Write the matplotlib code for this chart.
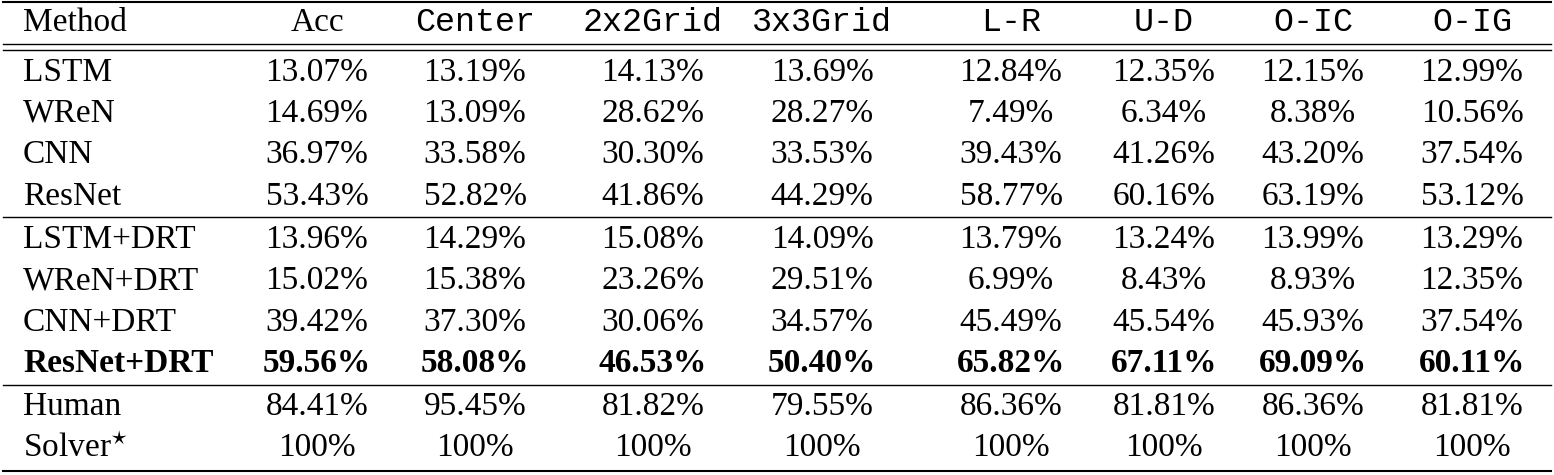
import matplotlib
matplotlib.use('Agg')
import matplotlib.pyplot as plt

plt.rcParams['font.family'] = ['Liberation Serif', 'DejaVu Serif']
plt.rcParams['mathtext.fontset'] = 'stix'

columns = ['Acc', 'Center', '2x2Grid', '3x3Grid', 'L-R', 'U-D', 'O-IC', 'O-IG']
mono_cols = [False, True, True, True, True, True, True, True]

methods = ['LSTM', 'WReN', 'CNN', 'ResNet',
           'LSTM+DRT', 'WReN+DRT', 'CNN+DRT', 'ResNet+DRT',
           'Human', r'Solver$^{\star}$']

lstm = [13.07, 13.19, 14.13, 13.69, 12.84, 12.35, 12.15, 12.99]
wren = [14.69, 13.09, 28.62, 28.27, 7.49, 6.34, 8.38, 10.56]
cnn = [36.97, 33.58, 30.30, 33.53, 39.43, 41.26, 43.20, 37.54]
resnet = [53.43, 52.82, 41.86, 44.29, 58.77, 60.16, 63.19, 53.12]
lstm_drt = [13.96, 14.29, 15.08, 14.09, 13.79, 13.24, 13.99, 13.29]
wren_drt = [15.02, 15.38, 23.26, 29.51, 6.99, 8.43, 8.93, 12.35]
cnn_drt = [39.42, 37.30, 30.06, 34.57, 45.49, 45.54, 45.93, 37.54]
resnet_drt = [59.56, 58.08, 46.53, 50.40, 65.82, 67.11, 69.09, 60.11]
human = [84.41, 95.45, 81.82, 79.55, 86.36, 81.81, 86.36, 81.81]
solver = [100, 100, 100, 100, 100, 100, 100, 100]

rows = [lstm, wren, cnn, resnet, lstm_drt, wren_drt, cnn_drt, resnet_drt, human, solver]
bold_rows = ['ResNet+DRT']

W, H = 1554, 475
fig = plt.figure(figsize=(W / 100, H / 100), dpi=100)
ax = fig.add_axes([0, 0, 1, 1])
ax.set_xlim(0, W)
ax.set_ylim(H, 0)
ax.axis('off')

# layout (pixels)
col_x = [317, 475, 653, 822, 1011, 1164, 1313, 1472]
method_x = 23
header_y = 21
row_y = [71, 112, 153, 195, 238, 279, 321, 362, 405, 446]
fs = 24
base = 10  # centre -> baseline offset

def fmt(v):
    if v == 100:
        return '100%'
    return '%.2f%%' % v

# header
ax.text(method_x, header_y + base, 'Method', fontsize=fs, ha='left', va='baseline')
for x, name, mono in zip(col_x, columns, mono_cols):
    fam = ['Liberation Mono', 'DejaVu Sans Mono'] if mono else ['Liberation Serif']
    ax.text(x, header_y + base, name, fontsize=fs, ha='center', va='baseline', family=fam)

# body
for y, m, vals in zip(row_y, methods, rows):
    w = 'bold' if m in bold_rows else 'normal'
    ax.text(method_x, y + base, m, fontsize=fs, ha='left', va='baseline', fontweight=w)
    for x, v in zip(col_x, vals):
        ax.text(x, y + base, fmt(v), fontsize=fs, ha='center', va='baseline', fontweight=w)

# rules
x0, x1 = 3, 1551
ax.plot([x0, x1], [2, 2], color='black', lw=1.5)
ax.plot([x0, x1], [44, 44], color='black', lw=1.0)
ax.plot([x0, x1], [50, 50], color='black', lw=1.0)
ax.plot([x0, x1], [217, 217], color='black', lw=1.0)
ax.plot([x0, x1], [385, 385], color='black', lw=1.0)
ax.plot([x0, x1], [471, 471], color='black', lw=1.5)

fig.savefig('out.png', dpi=100, facecolor='white')
